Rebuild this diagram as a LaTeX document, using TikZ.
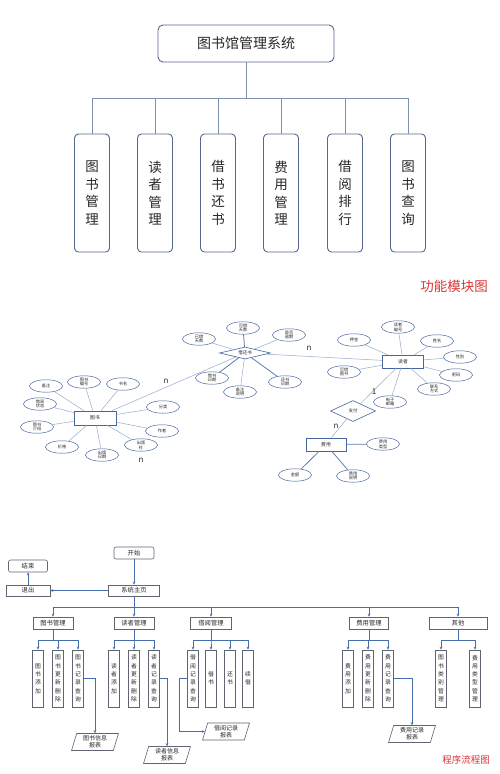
\documentclass[tikz,border=0pt]{standalone}
\usepackage{fontspec}
\setmainfont{Noto Sans CJK SC}
\usetikzlibrary{shapes.geometric,arrows.meta}
\definecolor{boxc}{RGB}{85,105,140}
\definecolor{linec}{RGB}{125,145,175}
\definecolor{erc}{RGB}{70,100,160}
\definecolor{erl}{RGB}{150,170,205}
\definecolor{flowb}{RGB}{95,100,115}
\definecolor{arrc}{RGB}{70,110,175}
\definecolor{redc}{RGB}{215,55,55}
\definecolor{txt}{RGB}{40,40,40}
\begin{document}
\begin{tikzpicture}[x=1pt,y=-1pt,
 every node/.style={text=txt},
 title/.style={draw=boxc, line width=0.9pt, rounded corners=5pt, minimum width=176, minimum height=37, font=\fontsize{14}{16}\selectfont},
 mod/.style={draw=boxc, line width=0.9pt, rounded corners=4pt, minimum width=35, minimum height=118, align=center, font=\fontsize{13.5}{17.5}\selectfont, inner sep=0},
 tree/.style={draw=linec, line width=0.7pt},
 ent/.style={draw=erc, line width=0.6pt, minimum width=42, minimum height=14, inner sep=0, font=\fontsize{4.8}{5.4}\selectfont},
 attr/.style={ellipse, draw=erc, line width=0.5pt, minimum width=33, minimum height=12.5, inner sep=0, align=center, font=\fontsize{4.2}{4.8}\selectfont},
 rel/.style={diamond, draw=erc, line width=0.6pt, inner sep=0, font=\fontsize{4.5}{5}\selectfont},
 erln/.style={draw=erl, line width=0.5pt},
 erthk/.style={draw=erc!85, line width=0.8pt},
 card/.style={font=\fontsize{8}{9}\selectfont, inner sep=0},
 fbox/.style={draw=flowb, line width=0.6pt, inner sep=0, font=\fontsize{6.3}{7}\selectfont},
 leaf/.style={draw=flowb, line width=0.6pt, inner sep=0, minimum width=11, minimum height=57, align=center, font=\fontsize{5.8}{8.3}\selectfont},
 rep/.style={trapezium, trapezium left angle=75, trapezium right angle=105, trapezium stretches=true, draw=flowb, line width=0.6pt, inner sep=0, minimum width=47, minimum height=17, align=center, font=\fontsize{6}{7}\selectfont},
 arr/.style={draw=arrc, line width=0.5pt, -{Stealth[length=3pt,width=2.6pt]}},
 ]
\fill[white] (0,0) rectangle (500,774);
\useasboundingbox (0,0) rectangle (500,774);

% ---------- function module diagram ----------
\node[title] (sys) at (246,43.5) {图书馆管理系统};
\node[mod] (m1) at (92,193) {图\\书\\管\\理};
\node[mod] (m2) at (155,193) {读\\者\\管\\理};
\node[mod] (m3) at (218,193) {借\\书\\还\\书};
\node[mod] (m4) at (281,193) {费\\用\\管\\理};
\node[mod] (m5) at (345,193) {借\\阅\\排\\行};
\node[mod] (m6) at (408,193) {图\\书\\查\\询};
\coordinate (hb) at (246,98);
\draw[tree] (sys.south) -- (hb);
\foreach \m in {m1,m2,m3,m4,m5,m6} \draw[tree] (hb) -| (\m.north);
\node[text=redc, font=\fontsize{13.5}{15}\selectfont] (lab1) at (454,286) {功能模块图};

% ---------- E-R diagram ----------
\node[ent] (book) at (95,418) {图书};
\node[attr] (b1) at (46,386) {备注};
\node[attr] (b2) at (84,382) {图书\\编号};
\node[attr] (b3) at (123,384) {书名};
\node[attr] (b4) at (40,404) {借阅\\状态};
\node[attr] (b5) at (37,427) {图书\\介绍};
\node[attr] (b6) at (163,407) {分类};
\node[attr] (b7) at (162,431) {作者};
\node[attr] (b8) at (62,447) {价格};
\node[attr] (b9) at (102,455) {出版\\日期};
\node[attr] (b10) at (141,445) {出版\\社};
\foreach \a in {b1,b2,b3,b4,b5,b6,b7,b8,b9,b10} \draw[erln] (book) -- (\a);

\node[rel, minimum width=51, minimum height=12, shape aspect=4.2] (borrow) at (245,353) {借还书};
\node[attr] (c1) at (199,339) {已借\\天数};
\node[attr] (c2) at (243,328) {可借\\天数};
\node[attr] (c3) at (289,335) {是否\\逾期};
\node[attr] (c4) at (212,378) {借书\\日期};
\node[attr] (c5) at (240,392) {备注\\说明};
\node[attr] (c6) at (285,382) {还书\\日期};
\draw[erln] (borrow) -- (c1);
\draw[erthk] (borrow) -- (c2);
\draw[erln] (borrow) -- (c3);
\draw[erthk] (borrow) -- (c4);
\draw[erln] (borrow) -- (c5);
\draw[erthk] (borrow) -- (c6);

\node[ent, minimum width=41, minimum height=13] (reader) at (403,361.5) {读者};
\node[attr] (d1) at (354,340) {押金};
\node[attr] (d2) at (398,327) {读者\\编号};
\node[attr] (d3) at (437,341) {姓名};
\node[attr] (d4) at (460,357) {性别};
\node[attr] (d5) at (456,375) {密码};
\node[attr] (d6) at (434,389) {联系\\方式};
\node[attr] (d7) at (390,402) {电子\\邮箱};
\node[attr] (d8) at (344,372) {可借\\图书};
\foreach \a in {d1,d2,d3,d4,d5,d6,d7,d8} \draw[erln] (reader) -- (\a);

\node[rel, minimum width=45, minimum height=21, shape aspect=2.1] (pay) at (353,411) {支付};
\node[ent, minimum width=40, minimum height=13] (fee) at (326,444.5) {费用};
\node[attr] (e1) at (383,444) {费用\\类型};
\node[attr] (e2) at (295,475) {金额};
\node[attr] (e3) at (353,476) {费用\\说明};
\foreach \a in {e1,e2,e3} \draw[erthk] (fee) -- (\a);

\draw[erln] (book) -- (borrow);
\draw[erln] (borrow) -- (reader);
\draw[erln] (reader) -- (pay);
\draw[erln] (pay) -- (fee);
\node[card] (n1) at (166,381) {n};
\node[card] (n2) at (141,460) {n};
\node[card] (n3) at (309,348) {n};
\node[card] (n4) at (374,392) {1};
\node[card] (n5) at (336,426) {n};

% ---------- program flow chart ----------
\node[fbox, rounded corners=2pt, minimum width=40, minimum height=12] (start) at (134,553) {开始};
\node[fbox, minimum width=51, minimum height=11] (home) at (134,590.5) {系统主页};
\node[fbox, minimum width=44, minimum height=11] (quit) at (28,590.5) {退出};
\node[fbox, rounded corners=2pt, minimum width=39, minimum height=12] (end) at (28,566) {结束};
\draw[arr] (start) -- (home);
\draw[arr] (home) -- (quit);
\draw[arr] (quit) -- (end);

\node[fbox, minimum width=40, minimum height=12] (g1) at (53,623) {图书管理};
\node[fbox, minimum width=40, minimum height=12] (g2) at (134,623) {读者管理};
\node[fbox, minimum width=41, minimum height=12] (g3) at (211,623) {借阅管理};
\node[fbox, minimum width=39, minimum height=12] (g4) at (369,623) {费用管理};
\node[fbox, minimum width=58, minimum height=12] (g5) at (458,623) {其他};
\coordinate (bus) at (134,607);
\draw[arrc, line width=0.5pt] (home.south) -- (bus);
\foreach \g in {g1,g2,g3,g4,g5} \draw[arr] (bus) -| (\g.north);

\node[leaf] (l11) at (38,678.5) {图\\书\\添\\加};
\node[leaf] (l12) at (58,678.5) {图\\书\\更\\新\\删\\除};
\node[leaf] (l13) at (78,678.5) {图\\书\\记\\录\\查\\询};
\node[leaf] (l21) at (114,678.5) {读\\者\\添\\加};
\node[leaf] (l22) at (134,678.5) {读\\者\\更\\新\\删\\除};
\node[leaf] (l23) at (154,678.5) {读\\者\\记\\录\\查\\询};
\node[leaf] (l31) at (193,678.5) {借\\阅\\记\\录\\查\\询};
\node[leaf] (l32) at (211,678.5) {借\\书};
\node[leaf] (l33) at (230,678.5) {还\\书};
\node[leaf] (l34) at (248,678.5) {续\\借};
\node[leaf] (l41) at (348,678.5) {费\\用\\添\\加};
\node[leaf] (l42) at (368,678.5) {费\\用\\更\\新\\删\\除};
\node[leaf] (l43) at (388,678.5) {费\\用\\记\\录\\查\\询};
\node[leaf] (l51) at (441,678.5) {图\\书\\类\\别\\管\\理};
\node[leaf] (l52) at (475,678.5) {费\\用\\类\\型\\管\\理};
\foreach \g/\l in {g1/l11,g1/l12,g1/l13,g2/l21,g2/l22,g2/l23,g3/l31,g3/l32,g3/l33,g3/l34,g4/l41,g4/l42,g4/l43,g5/l51,g5/l52}
  \draw[arr] (\g.south) -- ++(0,11) -| (\l.north);

\node[rep] (r1) at (95,742) {图书信息\\报表};
\node[rep] (r2) at (167,755) {读者信息\\报表};
\node[rep] (r3) at (226,731.5) {借阅记录\\报表};
\node[rep] (r4) at (412,734) {费用记录\\报表};
\draw[arr] (l13.east) -| (r1.north);
\draw[arr] (l23.east) -| (r2.north);
\draw[arr] (l31.west) -- ++(-8,0) |- (r3.west);
\draw[arr] (l43.east) -| (r4.north);
\node[text=redc, font=\fontsize{9.5}{11}\selectfont] (lab2) at (466,760) {程序流程图};
\end{tikzpicture}
\end{document}
